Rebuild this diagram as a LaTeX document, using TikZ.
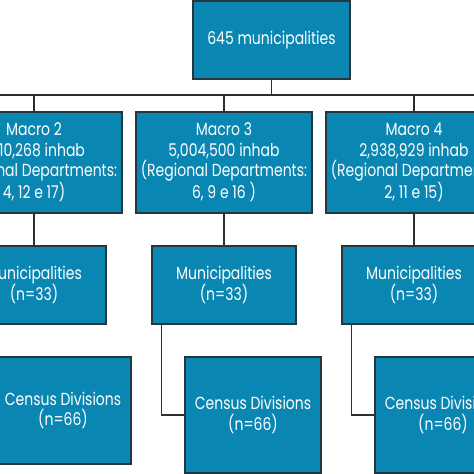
\documentclass[tikz,border=0pt]{standalone}
\usepackage{fontspec}
\setmainfont[FakeStretch=0.8]{Poppins}
\usetikzlibrary{positioning}
\definecolor{boxblue}{HTML}{0A86B2}
\definecolor{edge}{HTML}{263640}
\definecolor{wire}{HTML}{2E2E2E}

\begin{document}
\begin{tikzpicture}[x=1pt, y=-1pt,
    unit/.style={draw=edge, line width=1.4pt, fill=boxblue, text=white,
      align=center, inner sep=0pt, font=\fontsize{17.5}{20.5}\selectfont},
    link/.style={draw=wire, line width=1.6pt}]
  \useasboundingbox (0,0) rectangle (474,474);
  \clip (0,0) rectangle (474,474);
  % Top
  \node[unit, minimum width=157pt, minimum height=78pt] (top) at (271.5,40)
    {645 municipalities};
  % Macro regions
  \node[unit, minimum width=176pt, minimum height=101pt] (mac2) at (34,162.5)
    {Macro 2\\1,810,268 inhab\\(Regional Departments:\\4, 12 e 17)};
  \node[unit, minimum width=176pt, minimum height=101pt] (mac3) at (224,162.5)
    {Macro 3\\5,004,500 inhab\\(Regional Departments:\\6, 9 e 16 )};
  \node[unit, minimum width=176pt, minimum height=101pt] (mac4) at (414,162.5)
    {Macro 4\\2,938,929 inhab\\(Regional Departments:\\2, 11 e 15)};
  % Municipalities
  \node[unit, minimum width=144pt, minimum height=78pt] (mun2) at (34,285)
    {Municipalities\\(n=33)};
  \node[unit, minimum width=144pt, minimum height=78pt] (mun3) at (224,285)
    {Municipalities\\(n=33)};
  \node[unit, minimum width=144pt, minimum height=78pt] (mun4) at (414,285)
    {Municipalities\\(n=33)};
  % Census divisions
  \node[unit, minimum width=136pt, minimum height=107pt] (cen2) at (63,410.5)
    {Census Divisions\\(n=66)};
  \node[unit, minimum width=136pt, minimum height=116pt] (cen3) at (253,415)
    {Census Divisions\\(n=66)};
  \node[unit, minimum width=136pt, minimum height=116pt] (cen4) at (443,415)
    {Census Divisions\\(n=66)};
  % Links
  \coordinate (busL) at (-10,95);
  \coordinate (busR) at (484,95);
  \draw[link] (busL) -- (busR);
  \draw[link] (top.south) -- (top.south |- busL);
  \foreach \m in {mac2, mac3, mac4}
    \draw[link] (\m.north |- busL) -- (\m.north);
  \foreach \a/\b in {mac2/mun2, mac3/mun3, mac4/mun4}
    \draw[link] (\a) -- (\b);
  \foreach \a/\b in {mun3/cen3, mun4/cen4}
    \draw[link] ([xshift=10pt]\a.south west) |- (\b.west);
\end{tikzpicture}
\end{document}
